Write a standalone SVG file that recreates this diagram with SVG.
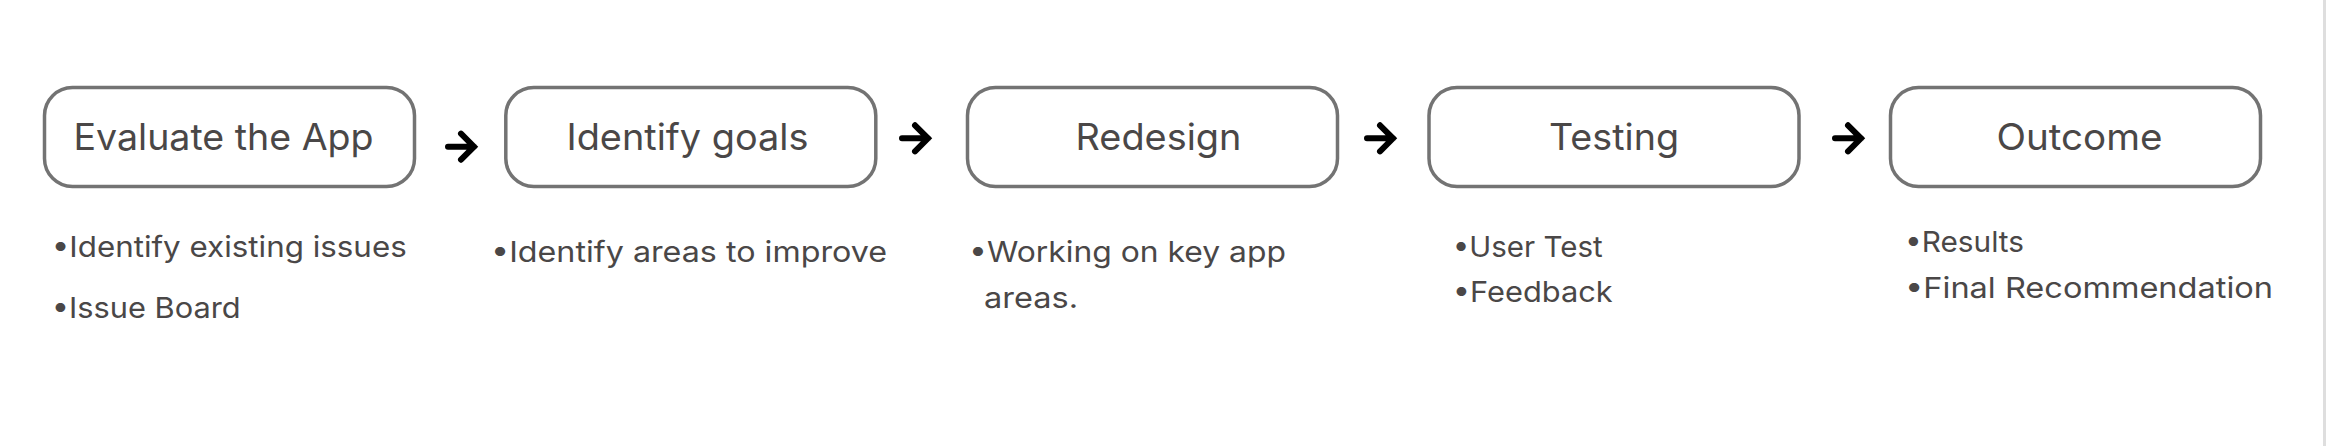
<svg xmlns="http://www.w3.org/2000/svg" width="2326" height="446" viewBox="0 0 2326 446">
<style>
.box{fill:#ffffff;stroke:#737373;stroke-width:3.5}
.title{font-family:Inter,"Noto Sans","Liberation Sans",sans-serif;font-size:37px;fill:#4a4747;text-anchor:middle}
.bul{font-family:Inter,"Noto Sans","Liberation Sans",sans-serif;font-size:29px;fill:#4a4747}
.arr{fill:none;stroke:#000000;stroke-width:6;stroke-linecap:round;stroke-linejoin:miter}
</style>
<rect x="0" y="0" width="2326" height="446" fill="#ffffff"/>
<rect x="2323" y="0" width="3" height="446" fill="#dedede"/>
<g id="node-evaluate">
<rect class="box" x="44.5" y="87.5" width="370" height="99" rx="28"/>
<text class="title" x="223.5" y="149.5" textLength="300" lengthAdjust="spacingAndGlyphs">Evaluate the App</text>
<text class="bul" x="51.7" y="256.7" textLength="355" lengthAdjust="spacingAndGlyphs">•Identify existing issues</text>
<text class="bul" x="51.7" y="317.7" textLength="189" lengthAdjust="spacingAndGlyphs">•Issue Board</text>
</g>
<g id="node-goals">
<rect class="box" x="505.8" y="87.5" width="370" height="99" rx="28"/>
<text class="title" x="687.5" y="149.5" textLength="242" lengthAdjust="spacingAndGlyphs">Identify goals</text>
<text class="bul" x="491" y="262" textLength="396" lengthAdjust="spacingAndGlyphs">•Identify areas to improve</text>
</g>
<g id="node-redesign">
<rect class="box" x="967.5" y="87.5" width="370" height="99" rx="28"/>
<text class="title" x="1158.5" y="149.5" textLength="166" lengthAdjust="spacingAndGlyphs">Redesign</text>
<text class="bul" x="969" y="261.7" textLength="317" lengthAdjust="spacingAndGlyphs">•Working on key app</text>
<text class="bul" x="984" y="308.3" textLength="94" lengthAdjust="spacingAndGlyphs">areas.</text>
</g>
<g id="node-testing">
<rect class="box" x="1429" y="87.5" width="370" height="99" rx="28"/>
<text class="title" x="1614" y="149.5" textLength="130" lengthAdjust="spacingAndGlyphs">Testing</text>
<text class="bul" x="1452.7" y="256.7" textLength="150" lengthAdjust="spacingAndGlyphs">•User Test</text>
<text class="bul" x="1452.7" y="302.3" textLength="160" lengthAdjust="spacingAndGlyphs">•Feedback</text>
</g>
<g id="node-outcome">
<rect class="box" x="1890.5" y="87.5" width="370" height="99" rx="28"/>
<text class="title" x="2079.5" y="149.5" textLength="166" lengthAdjust="spacingAndGlyphs">Outcome</text>
<text class="bul" x="1905" y="251.5" textLength="119" lengthAdjust="spacingAndGlyphs">•Results</text>
<text class="bul" x="1905" y="298" textLength="368" lengthAdjust="spacingAndGlyphs">•Final Recommendation</text>
</g>
<g id="connectors">
<path class="arr" d="M448 146.7 H474 M461 133.7 L474 146.7 L461 159.7"/>
<path class="arr" d="M902 138.3 H928 M915 125.3 L928 138.3 L915 151.3"/>
<path class="arr" d="M1367 138.3 H1393 M1380 125.3 L1393 138.3 L1380 151.3"/>
<path class="arr" d="M1835 138.3 H1861 M1848 125.3 L1861 138.3 L1848 151.3"/>
</g>
</svg>
